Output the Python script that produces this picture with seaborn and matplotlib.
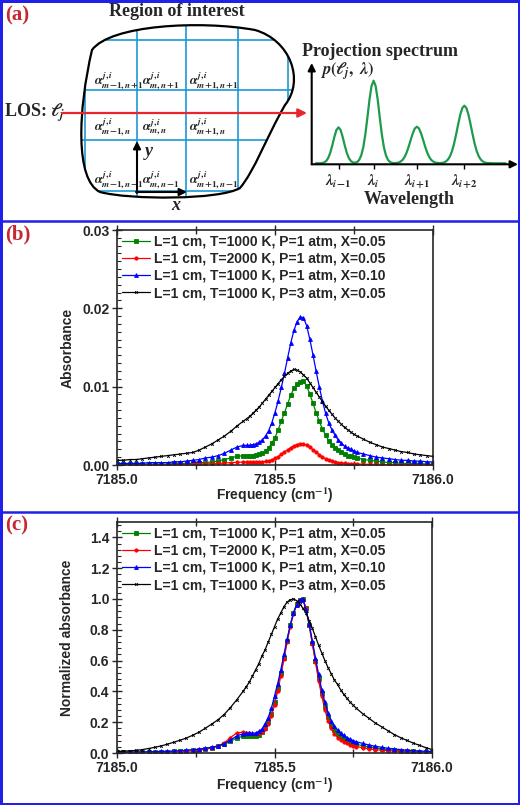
import matplotlib
matplotlib.use("Agg")
import matplotlib.pyplot as plt
from matplotlib.path import Path
from matplotlib.patches import PathPatch, Rectangle
from matplotlib.lines import Line2D
from matplotlib.ticker import MultipleLocator, FormatStrFormatter
import seaborn as sns

sns.set_style("ticks")
plt.rcParams["font.family"] = ["Liberation Sans", "DejaVu Sans"]
plt.rcParams["font.weight"] = "bold"
plt.rcParams["axes.labelweight"] = "bold"
plt.rcParams["mathtext.fontset"] = "stix"

# ---------------- data: panels (b) and (c) ----------------
freq = [7185.00, 7185.02, 7185.04, 7185.06, 7185.08, 7185.10, 7185.12, 7185.14, 7185.16, 7185.18,
        7185.20, 7185.22, 7185.24, 7185.26, 7185.28, 7185.30, 7185.32, 7185.34, 7185.36, 7185.38,
        7185.40,
        7185.41, 7185.42, 7185.43, 7185.44, 7185.45, 7185.46, 7185.47, 7185.48, 7185.49, 7185.50,
        7185.51, 7185.52, 7185.53, 7185.54, 7185.55, 7185.56, 7185.57, 7185.58, 7185.59, 7185.60,
        7185.61, 7185.62, 7185.63, 7185.64, 7185.65, 7185.66, 7185.67, 7185.68, 7185.69, 7185.70,
        7185.71, 7185.72, 7185.73, 7185.74, 7185.75, 7185.76,
        7185.78, 7185.80, 7185.82, 7185.84, 7185.86, 7185.88, 7185.90, 7185.92, 7185.94, 7185.96,
        7185.98, 7186.00]

abs_green = [0.0001, 0.0001, 0.0001, 0.0001, 0.0001, 0.0001, 0.0001, 0.0001, 0.0001, 0.0002,
             0.0002, 0.0002, 0.0002, 0.0003, 0.0003, 0.0004, 0.0005, 0.0007, 0.0009, 0.0011,
             0.0012,
             0.0012, 0.0012, 0.0012, 0.0013, 0.0014, 0.0015, 0.0018, 0.0022, 0.0028, 0.0035,
             0.0045, 0.0056, 0.0067, 0.0078, 0.0089, 0.0098, 0.0103, 0.0106, 0.0107, 0.0101,
             0.0091, 0.0079, 0.0067, 0.0056, 0.0046, 0.0038, 0.0031, 0.0026, 0.0022, 0.0019,
             0.0016, 0.0014, 0.0012, 0.0011, 0.0010, 0.0009,
             0.0007, 0.0006, 0.0005, 0.0004, 0.0003, 0.0003, 0.0002, 0.0002, 0.0002, 0.0002,
             0.0001, 0.0001]

abs_red = [0.00003, 0.00003, 0.00003, 0.00004, 0.00004, 0.00004, 0.00005, 0.00005, 0.00006, 0.00007,
           0.00008, 0.00009, 0.00010, 0.00012, 0.00014, 0.00017, 0.00020, 0.00025, 0.00030, 0.00035,
           0.00037,
           0.00037, 0.00036, 0.00036, 0.00036, 0.00037, 0.00040, 0.00045, 0.00053, 0.00066, 0.00084,
           0.00108, 0.00135, 0.00165, 0.00195, 0.00222, 0.00245, 0.00260, 0.00269, 0.00269, 0.00255,
           0.00228, 0.00196, 0.00163, 0.00131, 0.00103, 0.00080, 0.00061, 0.00047, 0.00037, 0.00030,
           0.00025, 0.00021, 0.00018, 0.00016, 0.00014, 0.00012,
           0.00010, 0.00008, 0.00007, 0.00006, 0.00005, 0.00004, 0.00004, 0.00003, 0.00003, 0.00003,
           0.00002, 0.00002]

abs_blue = [0.0002, 0.0002, 0.0002, 0.0002, 0.0002, 0.0003, 0.0003, 0.0003, 0.0003, 0.0004,
            0.0004, 0.0005, 0.0006, 0.0007, 0.0009, 0.0010, 0.0012, 0.0015, 0.0019, 0.0023,
            0.0025,
            0.0025, 0.0025, 0.0026, 0.0027, 0.0029, 0.0032, 0.0037, 0.0044, 0.0054, 0.0067,
            0.0082, 0.0099, 0.0117, 0.0137, 0.0156, 0.0172, 0.0183, 0.0189, 0.0188, 0.0178,
            0.0161, 0.0141, 0.0120, 0.0100, 0.0082, 0.0066, 0.0054, 0.0045, 0.0038, 0.0032,
            0.0028, 0.0024, 0.0022, 0.0020, 0.0018, 0.0016,
            0.0014, 0.0012, 0.0010, 0.0009, 0.0008, 0.0007, 0.0006, 0.0006, 0.0005, 0.0005,
            0.0004, 0.0004]

abs_black = [0.0006, 0.0006, 0.0007, 0.0007, 0.0008, 0.0009, 0.0010, 0.0011, 0.0012, 0.0013,
             0.0014, 0.0015, 0.0016, 0.0019, 0.0023, 0.0027, 0.0032, 0.0037, 0.0043, 0.0050,
             0.0056,
             0.0059, 0.0062, 0.0066, 0.0070, 0.0074, 0.0079, 0.0084, 0.0089, 0.0094, 0.0099,
             0.0104, 0.0109, 0.0113, 0.0117, 0.0120, 0.0122, 0.0121, 0.0119, 0.0115, 0.0111,
             0.0105, 0.0099, 0.0093, 0.0087, 0.0081, 0.0075, 0.0070, 0.0065, 0.0060, 0.0056,
             0.0052, 0.0048, 0.0045, 0.0042, 0.0039, 0.0037,
             0.0033, 0.0029, 0.0026, 0.0023, 0.0021, 0.0019, 0.0017, 0.0016, 0.0014, 0.0013,
             0.0012, 0.0011]

norm_green = [0.004, 0.004, 0.005, 0.005, 0.006, 0.006, 0.007, 0.008, 0.009, 0.011,
              0.013, 0.015, 0.018, 0.022, 0.027, 0.034, 0.043, 0.056, 0.075, 0.098,
              0.108,
              0.110, 0.110, 0.110, 0.112, 0.120, 0.135, 0.160, 0.200, 0.255, 0.330,
              0.420, 0.520, 0.620, 0.730, 0.830, 0.910, 0.965, 0.995, 0.998, 0.940,
              0.830, 0.715, 0.600, 0.490, 0.390, 0.300, 0.235, 0.185, 0.150, 0.125,
              0.107, 0.093, 0.081, 0.071, 0.063, 0.057,
              0.047, 0.039, 0.033, 0.027, 0.022, 0.018, 0.015, 0.012, 0.010, 0.008,
              0.007, 0.006]

norm_red = [0.003, 0.003, 0.003, 0.004, 0.004, 0.005, 0.005, 0.006, 0.007, 0.008,
            0.009, 0.011, 0.014, 0.018, 0.024, 0.032, 0.045, 0.065, 0.100, 0.130,
            0.135,
            0.132, 0.128, 0.125, 0.125, 0.127, 0.135, 0.155, 0.190, 0.240, 0.310,
            0.400, 0.500, 0.610, 0.720, 0.820, 0.900, 0.960, 0.995, 0.995, 0.940,
            0.830, 0.710, 0.590, 0.470, 0.370, 0.280, 0.210, 0.160, 0.125, 0.100,
            0.085, 0.072, 0.062, 0.054, 0.047, 0.042,
            0.034, 0.027, 0.022, 0.018, 0.015, 0.012, 0.010, 0.008, 0.007, 0.006,
            0.005, 0.004]

norm_blue = [0.005, 0.005, 0.006, 0.006, 0.007, 0.008, 0.009, 0.010, 0.011, 0.013,
             0.015, 0.018, 0.021, 0.025, 0.030, 0.037, 0.046, 0.060, 0.085, 0.110,
             0.125,
             0.127, 0.127, 0.127, 0.130, 0.140, 0.155, 0.190, 0.230, 0.290, 0.370,
             0.450, 0.540, 0.640, 0.740, 0.830, 0.910, 0.960, 0.995, 1.000, 0.930,
             0.840, 0.730, 0.620, 0.510, 0.410, 0.330, 0.260, 0.210, 0.175, 0.150,
             0.130, 0.115, 0.100, 0.090, 0.080, 0.073,
             0.062, 0.052, 0.044, 0.037, 0.031, 0.026, 0.022, 0.018, 0.015, 0.013,
             0.011, 0.010]

norm_black = [0.010, 0.012, 0.014, 0.017, 0.022, 0.029, 0.037, 0.046, 0.057, 0.070,
              0.083, 0.097, 0.115, 0.135, 0.160, 0.187, 0.215, 0.250, 0.295, 0.345,
              0.400,
              0.430, 0.460, 0.500, 0.540, 0.580, 0.630, 0.670, 0.720, 0.770, 0.820,
              0.870, 0.910, 0.950, 0.980, 0.995, 1.000, 0.990, 0.970, 0.940, 0.910,
              0.860, 0.810, 0.755, 0.700, 0.650, 0.600, 0.555, 0.515, 0.475, 0.445,
              0.410, 0.380, 0.355, 0.330, 0.310, 0.290,
              0.255, 0.225, 0.195, 0.170, 0.145, 0.120, 0.100, 0.082, 0.065, 0.050,
              0.035, 0.022]

case_labels = ["L=1 cm, T=1000 K, P=1 atm, X=0.05",
               "L=1 cm, T=2000 K, P=1 atm, X=0.05",
               "L=1 cm, T=1000 K, P=1 atm, X=0.10",
               "L=1 cm, T=1000 K, P=3 atm, X=0.05"]
case_colors = ["#008000", "#ff0000", "#0000ff", "#000000"]
case_markers = ["s", "o", "^", "x"]
case_msize = [2.2, 2.4, 2.8, 2.0]

# ---------------- data: schematic in panel (a) ----------------
spec_pos = [0.02, 0.03, 0.04, 0.05, 0.06, 0.07, 0.08, 0.09, 0.10, 0.11, 0.12, 0.13, 0.14, 0.15,
            0.16, 0.17, 0.18, 0.19, 0.20, 0.21, 0.22, 0.23, 0.24, 0.25, 0.26, 0.27, 0.28, 0.29,
            0.30, 0.31, 0.32, 0.33, 0.34, 0.35, 0.36, 0.37, 0.38, 0.39, 0.40, 0.41, 0.42, 0.43,
            0.44, 0.45, 0.46, 0.47, 0.48, 0.49, 0.50, 0.51, 0.52, 0.53, 0.54, 0.55, 0.56, 0.57,
            0.58, 0.59, 0.60, 0.61, 0.62, 0.63, 0.64, 0.65, 0.66, 0.67, 0.68, 0.69, 0.70, 0.71,
            0.72, 0.73, 0.74, 0.75, 0.76, 0.77, 0.78, 0.79, 0.80, 0.81, 0.82, 0.83, 0.84, 0.85,
            0.86, 0.87, 0.88, 0.89, 0.90, 0.91, 0.92, 0.93, 0.94]
spec_int = [0.010, 0.010, 0.010, 0.012, 0.018, 0.032, 0.062, 0.114, 0.188, 0.271, 0.339, 0.365,
            0.339, 0.271, 0.188, 0.114, 0.062, 0.032, 0.018, 0.016, 0.022, 0.043, 0.087, 0.168,
            0.295, 0.461, 0.637, 0.773, 0.825, 0.773, 0.637, 0.461, 0.295, 0.168, 0.087, 0.043,
            0.022, 0.014, 0.011, 0.013, 0.016, 0.026, 0.042, 0.071, 0.115, 0.174, 0.242, 0.306,
            0.354, 0.371, 0.354, 0.306, 0.242, 0.174, 0.115, 0.071, 0.042, 0.026, 0.016, 0.014,
            0.012, 0.013, 0.017, 0.027, 0.046, 0.078, 0.129, 0.203, 0.295, 0.395, 0.489, 0.555,
            0.579, 0.555, 0.489, 0.395, 0.295, 0.203, 0.129, 0.078, 0.046, 0.027, 0.017, 0.013,
            0.012, 0.011, 0.010, 0.010, 0.010, 0.010, 0.010, 0.010, 0.010]
lambda_pos = [0.13, 0.30, 0.51, 0.74]
lambda_labels = [r"$\lambda_{i\!-\!1}$", r"$\lambda_{i}$", r"$\lambda_{i\!+\!1}$", r"$\lambda_{i\!+\!2}$"]

grid_x = [85, 137, 186, 238, 288]
grid_y = [40, 90, 140, 191]
cell_col_x = [94, 142, 189]
cell_row_y = [81, 127, 180]
cell_subs = [[r"m\!-\!1,n\!+\!1", r"m,n\!+\!1", r"m\!+\!1,n\!+\!1"],
             [r"m\!-\!1,n", r"m,n", r"m\!+\!1,n"],
             [r"m\!-\!1,n\!-\!1", r"m,n\!-\!1", r"m\!+\!1,n\!-\!1"]]

FRAME_BLUE = "#2020e8"
GRID_BLUE = "#1b9ad7"
LABEL_RED = "#c62830"
SERIF = ["Liberation Serif", "DejaVu Serif"]
W, H = 520, 805

fig = plt.figure(figsize=(5.2, 8.05), dpi=100)

# ---------------- panel (a): diagram ----------------
ax_a = fig.add_axes([0, 1 - 221 / H, 1, 221 / H])
ax_a.set_xlim(0, W)
ax_a.set_ylim(221, 0)
ax_a.axis("off")

verts = [(92, 50),
         (110, 25), (200, 20), (255, 30),
         (290, 40), (305, 80), (285, 105),
         (265, 140), (255, 170), (240, 188),
         (220, 200), (130, 200), (100, 192),
         (75, 180), (78, 110), (92, 50),
         (92, 50)]
codes = [Path.MOVETO] + [Path.CURVE4] * 15 + [Path.CLOSEPOLY]
blob = PathPatch(Path(verts, codes), fc="none", ec="black", lw=1.6, zorder=3)
ax_a.add_patch(blob)
for gx in grid_x:
    ln, = ax_a.plot([gx, gx], [0, 221], color=GRID_BLUE, lw=1.2, zorder=2)
    ln.set_clip_path(blob)
for gy in grid_y:
    ln, = ax_a.plot([0, W], [gy, gy], color=GRID_BLUE, lw=1.2, zorder=2)
    ln.set_clip_path(blob)

for r, row in enumerate(cell_subs):
    for c, sub in enumerate(row):
        ax_a.text(cell_col_x[c], cell_row_y[r], r"$\alpha^{j,i}_{%s}$" % sub,
                  fontsize=9.5, ha="left", va="center", zorder=4)

ax_a.text(5, 15, "(a)", color=LABEL_RED, family=SERIF, fontsize=15,
          fontweight="bold", ha="left", va="center")
ax_a.text(177, 11, "Region of interest", family=SERIF, fontsize=13,
          fontweight="bold", ha="center", va="center")
ax_a.text(4, 113, r"LOS: $\ell_j$", family=SERIF, fontsize=13,
          fontweight="bold", ha="left", va="center")
ax_a.annotate("", xy=(307, 113), xytext=(62, 113),
              arrowprops=dict(arrowstyle="-|>", color="#e8262b", lw=1.6,
                              mutation_scale=13, shrinkA=0, shrinkB=0), zorder=5)
ax_a.annotate("", xy=(137, 141), xytext=(137, 193),
              arrowprops=dict(arrowstyle="-|>", color="black", lw=1.5,
                              mutation_scale=11, shrinkA=0, shrinkB=0), zorder=5)
ax_a.annotate("", xy=(187, 192), xytext=(136, 192),
              arrowprops=dict(arrowstyle="-|>", color="black", lw=1.5,
                              mutation_scale=11, shrinkA=0, shrinkB=0), zorder=5)
ax_a.text(145, 152, "y", family=SERIF, fontsize=13, fontweight="bold",
          style="italic", ha="left", va="center")
ax_a.text(176, 205, "x", family=SERIF, fontsize=13, fontweight="bold",
          style="italic", ha="center", va="center")

ax_a.text(380, 52, "Projection spectrum", family=SERIF, fontsize=13,
          fontweight="bold", ha="center", va="center")
ax_a.text(320, 71, r"$\boldsymbol{p}(\ell_j,\ \lambda)$", fontsize=12,
          ha="left", va="center")
ax_a.text(409, 199, "Wavelength", family=SERIF, fontsize=13,
          fontweight="bold", ha="center", va="center")

ax_s = fig.add_axes([311.7 / W, 1 - 164.3 / H, 206.3 / W, 101.3 / H])
ax_s.set_xlim(0, 1)
ax_s.set_ylim(0, 1)
ax_s.axis("off")
sns.lineplot(x=spec_pos, y=spec_int, ax=ax_s, color="#1e9a4b", lw=1.6,
             legend=False, clip_on=False)
ax_s.annotate("", xy=(0, 1), xytext=(0, 0), xycoords="axes fraction",
              arrowprops=dict(arrowstyle="-|>", color="black", lw=1.5,
                              mutation_scale=11, shrinkA=0, shrinkB=0))
ax_s.annotate("", xy=(1, 0), xytext=(0, 0), xycoords="axes fraction",
              arrowprops=dict(arrowstyle="-|>", color="black", lw=1.5,
                              mutation_scale=11, shrinkA=0, shrinkB=0))
ax_s.vlines(lambda_pos, -0.05, 0, color="black", lw=1.0, clip_on=False)
for lp, ll in zip(lambda_pos, lambda_labels):
    ax_s.text(lp, -0.17, ll, fontsize=11, ha="center", va="center")


# ---------------- panels (b) and (c) ----------------
def spectrum_panel(rect, series, ylim, ymajor, yminor, yfmt, ylabel, tag, tag_y, xlab_y):
    ax = fig.add_axes(rect)
    for vals, lab, col, mk, ms in zip(series, case_labels, case_colors,
                                      case_markers, case_msize):
        sns.lineplot(x=freq, y=vals, ax=ax, color=col, marker=mk, markersize=ms,
                     markeredgecolor=col, markeredgewidth=0.6, lw=0.9, label=lab)
    ax.set_xlim(7185.0, 7186.0)
    ax.set_ylim(*ylim)
    ax.xaxis.set_major_locator(MultipleLocator(0.5))
    ax.xaxis.set_minor_locator(MultipleLocator(0.25))
    ax.xaxis.set_major_formatter(FormatStrFormatter("%.1f"))
    ax.yaxis.set_major_locator(MultipleLocator(ymajor))
    ax.yaxis.set_minor_locator(MultipleLocator(yminor))
    ax.yaxis.set_major_formatter(FormatStrFormatter(yfmt))
    ax.tick_params(which="major", direction="inout", length=7, width=1.0,
                   labelsize=10, top=True, right=False, pad=2)
    ax.tick_params(axis="y", which="minor", direction="in", length=3, width=0.8,
                   right=False)
    ax.tick_params(axis="x", which="minor", direction="inout", length=6, width=1.0,
                   top=True)
    for sp in ax.spines.values():
        sp.set_linewidth(1.2)
        sp.set_visible(True)
    ax.set_xlabel(r"Frequency (cm$^{\mathbf{-1}}$)", fontsize=10)
    ax.set_ylabel(ylabel, fontsize=10)
    ax.yaxis.set_label_coords(-0.135, 0.5)
    ax.xaxis.set_label_coords(0.5, xlab_y)
    ax.xaxis.label.set_va("center")
    ax.legend(loc="upper left", bbox_to_anchor=(0.0, 1.0), frameon=False,
              prop={"size": 10, "weight": "bold"}, handlelength=2.0,
              handletextpad=0.3, labelspacing=0.22, borderaxespad=0.15,
              borderpad=0.2, numpoints=1)
    fig.text(5 / W, 1 - tag_y / H, tag, color=LABEL_RED, family=SERIF, fontsize=15,
             fontweight="bold", ha="left", va="center")
    return ax


ax_b = spectrum_panel([117 / W, 1 - 465 / H, 316 / W, 235 / H],
                      [abs_green, abs_red, abs_blue, abs_black],
                      (0, 0.03), 0.01, 0.001, "%.2f", "Absorbance", "(b)", 234, -0.128)
ax_c = spectrum_panel([117 / W, 1 - 753 / H, 315 / W, 231 / H],
                      [norm_green, norm_red, norm_blue, norm_black],
                      (0, 1.5), 0.2, 0.04, "%.1f", "Normalized absorbance", "(c)", 525, -0.138)

# ---------------- blue frames ----------------
fig.add_artist(Rectangle((0, 0), 1, 1, transform=fig.transFigure, fill=False,
                         ec=FRAME_BLUE, lw=3.6))
for yy in [221, 512]:
    fig.add_artist(Line2D([0, 1], [1 - yy / H, 1 - yy / H], transform=fig.transFigure,
                          color=FRAME_BLUE, lw=1.8))

fig.savefig("out.png", dpi=100, facecolor="white")
